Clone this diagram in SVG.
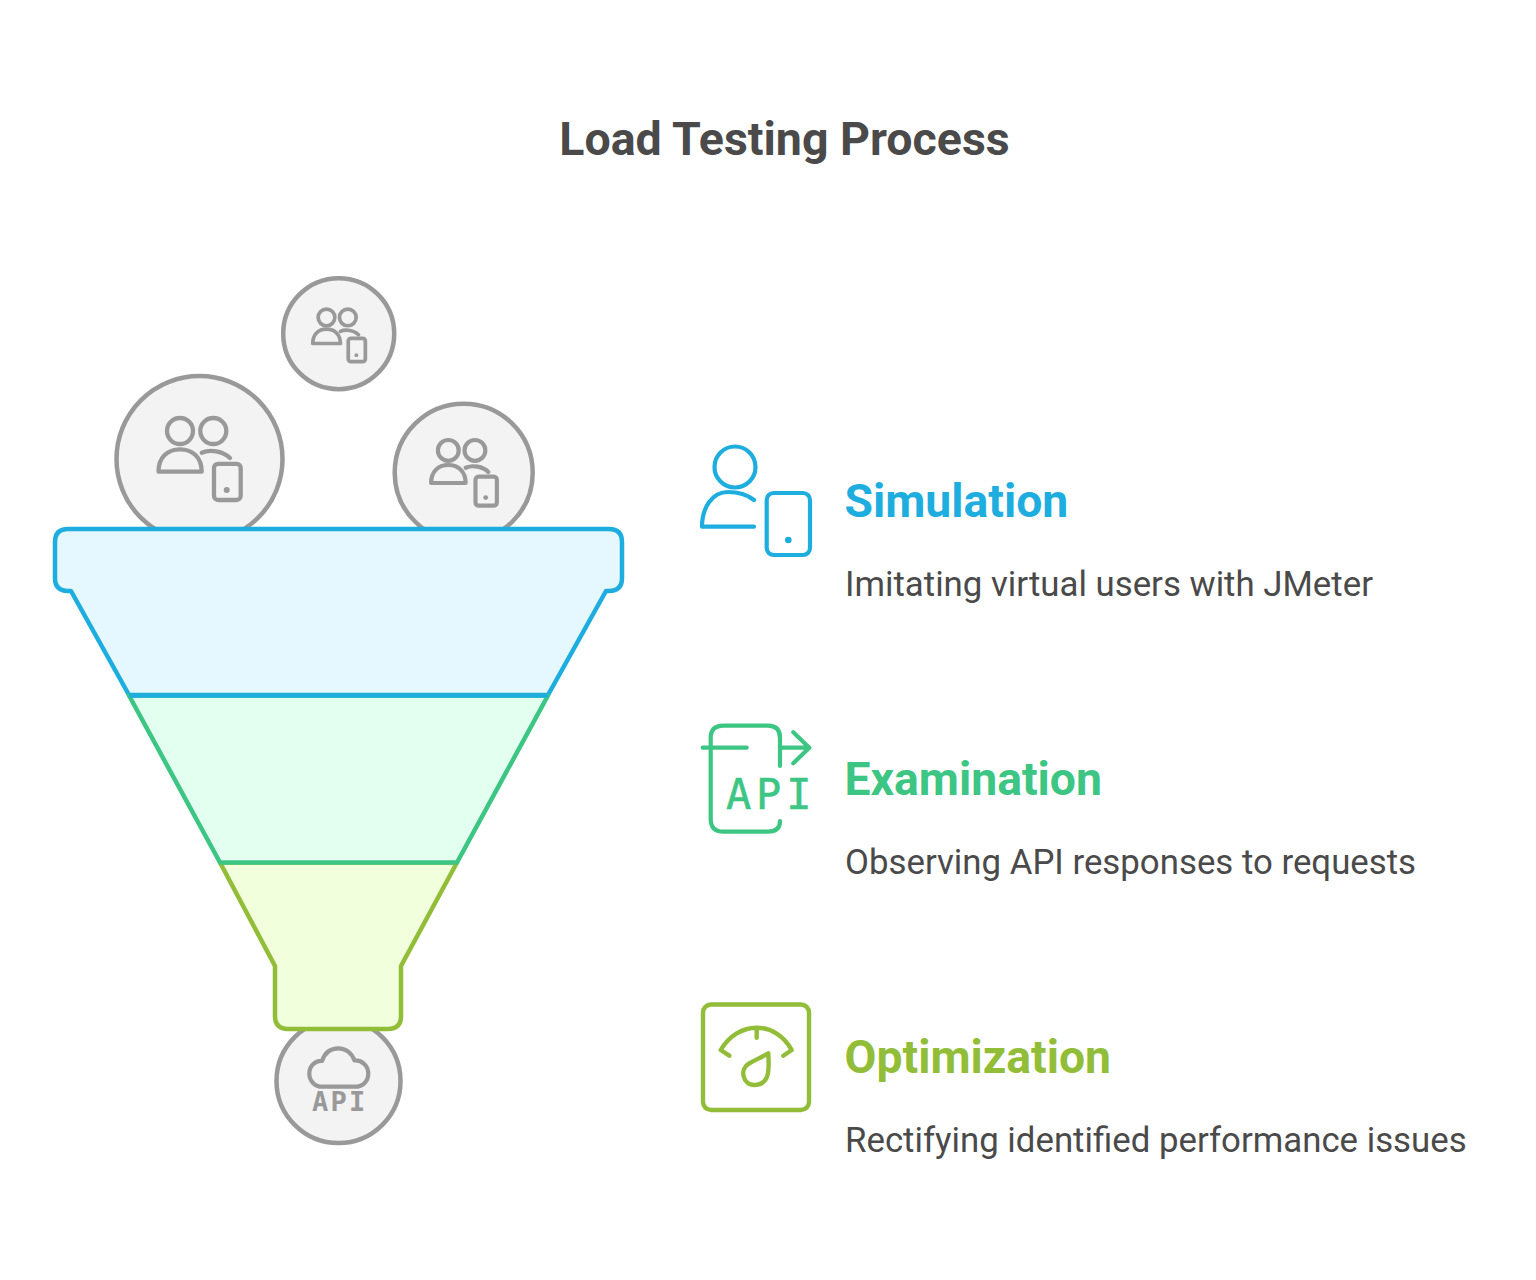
<svg xmlns="http://www.w3.org/2000/svg" width="1536" height="1280" viewBox="0 0 1536 1280">
<style>
text{font-family:Roboto,"Liberation Sans",sans-serif}
.t{font-size:46.5px;font-weight:700;fill:#4a4a4a;text-anchor:middle}
.h{font-size:46.3px;font-weight:700}
.d{font-size:34.8px;fill:#4a4a4a}
.b{fill:#1eaddf}.g{fill:#3cc583}.l{fill:#92bd39}
.c{fill:#f3f3f3;stroke:#999;stroke-width:4.5}
.i{fill:none;stroke-linecap:round;stroke-linejoin:round}
.m{font-family:"DejaVu Sans Mono",monospace}
</style>
<defs>
<g id="people">
<circle cx="180" cy="431" r="13"/><circle cx="213.3" cy="431" r="13"/>
<path d="M158.5 471.7C158.5 458 167 449.3 180 449.3C193 449.3 201.7 458 201.7 471.7Z"/>
<path d="M201.7 452.7C210 449 223 451 230 458"/>
<rect x="214" y="463.8" width="26.7" height="36.2" rx="4"/>
<circle cx="226.7" cy="490" r="3" fill="#999" stroke="none"/>
</g>
</defs>
<rect width="1536" height="1280" fill="#fff"/>
<text class="t" x="784.5" y="155">Load Testing Process</text>
<g id="node-users-large"><circle class="c" cx="199.5" cy="459" r="83"/><use href="#people" class="i" stroke="#999" stroke-width="4.3"/></g>
<g id="node-users-top"><circle class="c" cx="338.7" cy="333.7" r="55.5"/><use href="#people" class="i" stroke="#999" stroke-width="5.8" transform="translate(211.3 41.6) scale(.64)"/></g>
<g id="node-users-right"><circle class="c" cx="463.7" cy="472.7" r="69"/><use href="#people" class="i" stroke="#999" stroke-width="5.2" transform="translate(304.3 105.6) scale(.8)"/></g>
<g id="node-api"><circle class="c" cx="338.5" cy="1081" r="62"/>
<path class="i" stroke="#999" stroke-width="4.2" d="M322 1086.7H355C363 1086.7 368.3 1081 368.3 1073.5C368.3 1066 362 1060 354.5 1060.5C352 1053 345.5 1048.3 338.5 1048.3C330 1048.3 324.5 1053 322 1061C315 1060.5 309.3 1066 309.3 1073.5C309.3 1081 315 1086.7 322 1086.7Z"/>
<text class="m" x="312" y="1110.7" font-size="27" font-weight="700" letter-spacing="2.2" fill="#999">API</text></g>
<g id="funnel-simulation"><path fill="#e5f7ff" stroke="#1eaddf" stroke-width="4.5" stroke-linejoin="round" d="M68 529H609Q622 529 622 542V578Q622 591 609 591H606L548 695H129L71 591H68Q55 591 55 578V542Q55 529 68 529Z"/></g>
<g id="funnel-optimization"><path fill="#f2ffdc" stroke="#92bd39" stroke-width="4.5" stroke-linejoin="round" d="M220 862.5H457L401 966V1016Q401 1029 388 1029H288Q275 1029 275 1016V966Z"/></g>
<g id="funnel-examination"><path fill="#e2fff0" stroke="#3cc583" stroke-width="4.5" stroke-linejoin="round" d="M129 695.5H548L457 862.5H220Z"/></g>
<path fill="none" stroke="#1eaddf" stroke-width="4.5" d="M129 695.5H548"/>
<g id="item-simulation">
<g class="i" stroke="#1eaddf" stroke-width="4.2"><circle cx="735" cy="467" r="20.5"/><path d="M754 500C747 494.5 738 492 728 492C712 492 702 508 702 526.7H754"/><rect x="766.7" y="493" width="43.3" height="62" rx="7"/></g>
<circle cx="788.3" cy="540" r="3.3" fill="#1eaddf"/>
<text class="h b" x="844.5" y="517">Simulation</text>
<text class="d" x="845" y="595.5">Imitating virtual users with JMeter</text></g>
<g id="item-examination">
<g class="i" stroke="#3cc583" stroke-width="4.2"><path d="M780 766V738Q780 725.7 768 725.7H723.5Q710.7 725.7 710.7 738V819Q710.7 831.7 723.5 831.7H768Q780 831.7 780 821"/><path d="M702.7 747.7H746.7M780 747.7H809.3M793.3 732.3L809.3 747.7L793.3 763.3"/></g>
<text class="m g" x="726" y="808.7" font-size="42" letter-spacing="4.8" stroke="#3cc583" stroke-width=".5">API</text>
<text class="h g" x="844.5" y="795">Examination</text>
<text class="d" x="845" y="873.5">Observing API responses to requests</text></g>
<g id="item-optimization">
<g class="i" stroke="#92bd39" stroke-width="4.4"><rect x="703" y="1004.5" width="106" height="105.5" rx="8"/><path d="M729.3 1055.7L720.7 1050C729 1036 742 1027.7 756.7 1027.7C771 1027.7 784 1036 791.7 1050L783.3 1055.7M756.7 1027.7V1037.7"/><path d="M768.3 1053.3C769.5 1072 769 1085 754 1085C743 1085 739 1069 749 1063.5C755 1060 762 1057 768.3 1053.3Z"/></g>
<text class="h l" x="844.5" y="1073">Optimization</text>
<text class="d" x="845" y="1151.5">Rectifying identified performance issues</text></g>
</svg>
